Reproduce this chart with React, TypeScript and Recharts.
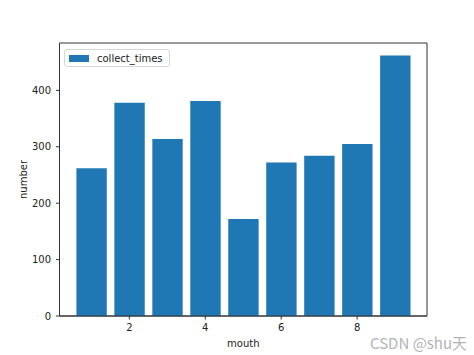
import React from 'react';
import { BarChart, Bar, XAxis, YAxis, Legend, ReferenceArea } from 'recharts';

const months = [1, 2, 3, 4, 5, 6, 7, 8, 9];
const collectTimes = [262, 378, 314, 381, 172, 272, 284, 305, 462];
const xTicks = [2, 4, 6, 8];
const yTicks = [0, 100, 200, 300, 400];

const data = months.map((m, i) => ({ mouth: m, collect_times: collectTimes[i] }));

const FONT = '"DejaVu Sans", sans-serif';
const BLUE = '#1f77b4';

const W = 474;
const H = 355;
const MARGIN = { top: 43, right: 47, bottom: 0, left: 0 };
const Y_AXIS_W = 59.5;
const X_DOMAIN: [number, number] = [0.16, 9.84];
const BAR_FRACTION = 0.8;
const plotWidth = W - MARGIN.left - MARGIN.right - Y_AXIS_W;
const barSize = (BAR_FRACTION * plotWidth) / (X_DOMAIN[1] - X_DOMAIN[0]);

const LegendBox = () => (
  <div
    style={{
      border: '1px solid #d6d6d6',
      borderRadius: 3,
      background: '#fff',
      width: 104,
      height: 16,
      display: 'flex',
      alignItems: 'center',
      fontFamily: FONT,
      fontSize: 10,
      color: '#222',
      boxSizing: 'content-box',
    }}
  >
    <span style={{ display: 'inline-block', width: 20, height: 7, background: BLUE, marginLeft: 4, marginRight: 8 }} />
    <span>collect_times</span>
  </div>
);

const YLabel = (props: any) => {
  const { viewBox } = props;
  const cx = 23;
  const cy = viewBox.y + viewBox.height / 2;
  return (
    <text x={cx} y={cy} transform={`rotate(-90, ${cx}, ${cy})`} textAnchor="middle" dominantBaseline="central" fontFamily={FONT} fontSize={10} fill="#222">
      number
    </text>
  );
};

export default function App() {
  return (
    <div style={{ position: 'absolute', left: 0, top: 0, width: W, height: H, background: '#fff' }}>
      <BarChart width={W} height={H} data={data} margin={MARGIN}>
        <XAxis
          dataKey="mouth"
          type="number"
          domain={X_DOMAIN}
          ticks={xTicks}
          allowDataOverflow
          height={39}
          tickSize={3.5}
          tickMargin={4.5}
          stroke="#333"
          tick={{ fill: '#222', fontSize: 10, fontFamily: FONT }}
          label={{ value: 'mouth', position: 'insideBottom', offset: 8, fill: '#222', fontSize: 10, fontFamily: FONT }}
        />
        <YAxis
          type="number"
          domain={[0, 484]}
          ticks={yTicks}
          allowDataOverflow
          width={Y_AXIS_W}
          tickSize={3.5}
          tickMargin={5}
          stroke="#333"
          tick={{ fill: '#222', fontSize: 10, fontFamily: FONT }}
          label={<YLabel />}
        />
        <Legend
          layout="horizontal"
          verticalAlign="middle"
          align="center"
          content={<LegendBox />}
          wrapperStyle={{ position: 'absolute', left: 64, top: 49, width: 'auto' }}
        />
        <Bar dataKey="collect_times" fill={BLUE} barSize={barSize} isAnimationActive={false} />
        <ReferenceArea x1={X_DOMAIN[0]} x2={X_DOMAIN[1]} y1={0} y2={484} fill="none" stroke="#333" strokeWidth={1} />
      </BarChart>
      <div
        style={{
          position: 'absolute',
          left: 370,
          top: 332,
          fontFamily: '"Noto Sans CJK SC", "Noto Sans", sans-serif',
          fontSize: 15,
          color: '#b4b4b4',
          whiteSpace: 'nowrap',
        }}
      >
        CSDN @shu天
      </div>
    </div>
  );
}
